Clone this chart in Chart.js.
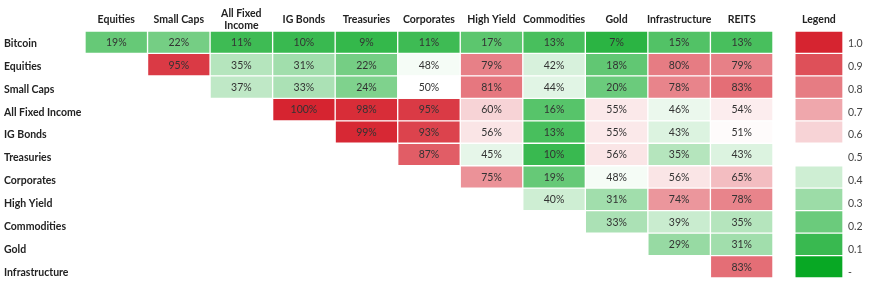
<!DOCTYPE html>
<html>
<head>
<meta charset="utf-8">
<script src="https://cdn.jsdelivr.net/npm/chart.js@4.4.1/dist/chart.umd.min.js"></script>
<style>
  body { margin: 0; background: #fff; }
  #wrap { width: 870px; height: 292px; position: relative; }
</style>
</head>
<body>
<div id="wrap"><canvas id="corrChart"></canvas></div>
<script>
// --- Data ---
const columnLabels = ["Equities", "Small Caps", ["All Fixed", "Income"], "IG Bonds", "Treasuries",
  "Corporates", "High Yield", "Commodities", "Gold", "Infrastructure", "REITS"];
const rowLabels = ["Bitcoin", "Equities", "Small Caps", "All Fixed Income", "IG Bonds", "Treasuries",
  "Corporates", "High Yield", "Commodities", "Gold", "Infrastructure"];

// correlation (%) per row, starting at the row's own column
const bitcoin = [19, 22, 11, 10, 9, 11, 17, 13, 7, 15, 13];
const equities = [95, 35, 31, 22, 48, 79, 42, 18, 80, 79];
const smallCaps = [37, 33, 24, 50, 81, 44, 20, 78, 83];
const allFixedIncome = [100, 98, 95, 60, 16, 55, 46, 54];
const igBonds = [99, 93, 56, 13, 55, 43, 51];
const treasuries = [87, 45, 10, 56, 35, 43];
const corporates = [75, 19, 48, 56, 65];
const highYield = [40, 31, 74, 78];
const commodities = [33, 39, 35];
const gold = [29, 31];
const infrastructure = [83];
const matrixRows = [bitcoin, equities, smallCaps, allFixedIncome, igBonds, treasuries,
  corporates, highYield, commodities, gold, infrastructure];

const legendValues = [1.0, 0.9, 0.8, 0.7, 0.6, 0.5, 0.4, 0.3, 0.2, 0.1, 0];
const legendLabels = ["1.0", "0.9", "0.8", "0.7", "0.6", "0.5", "0.4", "0.3", "0.2", "0.1", "-"];

// --- Colour scale: green (0) -> white (0.5) -> red (1) ---
const RED = [214, 36, 48];
const GREEN = [8, 168, 36];
function heatColor(v) {
  const end = v >= 0.5 ? RED : GREEN;
  const t = Math.min(1, Math.abs(v - 0.5) / 0.5);
  const c = end.map((e) => Math.round(255 + (e - 255) * t));
  return `rgb(${c[0]}, ${c[1]}, ${c[2]})`;
}

// build floating bar cells from the arrays
const cells = [];
matrixRows.forEach((vals, r) => {
  vals.forEach((v, k) => {
    const c = r + k;
    cells.push({ x: [c, c + 1], y: rowLabels[r], v: v });
  });
});
const LEG_START = 11.35, LEG_END = 12.12;
const legendCells = legendValues.map((v, i) => ({ x: [LEG_START, LEG_END], y: rowLabels[i], v: v * 100 }));

const headerTicks = columnLabels.map((_, i) => i + 0.5).concat([(LEG_START + LEG_END) / 2]);
const headerText = columnLabels.concat(["Legend"]);

// label axes (row names left, legend values right) sit on a slightly stretched scale
const LABEL_MIN = -0.536, LABEL_MAX = 10.227;

const FONT = "Lato, 'Open Sans', sans-serif";

// value labels inside the matrix cells
const cellText = {
  id: "cellText",
  afterDatasetsDraw(chart) {
    const ctx = chart.ctx;
    const meta = chart.getDatasetMeta(0);
    ctx.save();
    ctx.font = `10.5px ${FONT}`;
    ctx.fillStyle = "#333";
    ctx.textAlign = "center";
    ctx.textBaseline = "middle";
    meta.data.forEach((bar, i) => {
      ctx.fillText(cells[i].v + "%", (bar.x + bar.base) / 2, bar.y + 0.5);
    });
    ctx.restore();
  },
};

const labelAxis = (position, labels, width, ticks) => ({
  type: "linear",
  position: position,
  reverse: true,
  offset: false,
  bounds: "data",
  min: LABEL_MIN,
  max: LABEL_MAX,
  grid: { display: false, drawTicks: false, offset: false },
  border: { display: false },
  afterBuildTicks: (scale) => { scale.ticks = labels.map((_, i) => ({ value: i })); },
  afterDataLimits: (scale) => { scale.min = LABEL_MIN; scale.max = LABEL_MAX; },
  afterFit: (scale) => { scale.width = width; },
  ticks: Object.assign({ autoSkip: false, callback: (val) => labels[val] }, ticks),
});

const ctx = document.getElementById("corrChart").getContext("2d");
const corrChart = new Chart(ctx, {
  type: "bar",
  data: {
    labels: rowLabels,
    datasets: [
      {
        data: cells,
        backgroundColor: (c) => heatColor(c.raw.v / 100),
        borderColor: "rgba(255,255,255,0.35)",
        borderWidth: 1,
        borderSkipped: false,
        grouped: false,
        categoryPercentage: 1,
        barPercentage: 1,
      },
      {
        data: legendCells,
        backgroundColor: (c) => heatColor(c.raw.v / 100),
        borderColor: "rgba(255,255,255,0.35)",
        borderWidth: 1,
        borderSkipped: false,
        grouped: false,
        categoryPercentage: 1,
        barPercentage: 1,
      },
    ],
  },
  options: {
    indexAxis: "y",
    responsive: true,
    maintainAspectRatio: false,
    animation: false,
    events: [],
    layout: { padding: { left: 4, right: 0, top: 0, bottom: 14 } },
    plugins: { legend: { display: false }, tooltip: { enabled: false } },
    scales: {
      x: {
        type: "linear",
        position: "top",
        min: 0,
        max: LEG_END,
        grid: { display: false, drawTicks: false },
        border: { display: false },
        afterBuildTicks: (scale) => { scale.ticks = headerTicks.map((v) => ({ value: v })); },
        afterFit: (scale) => { scale.height = 31; },
        ticks: {
          autoSkip: false,
          maxRotation: 0,
          padding: 5,
          crossAlign: "center",
          color: "#222",
          font: { family: FONT, size: 10.5, weight: "bold" },
          callback: (val, i) => headerText[i],
        },
      },
      y: {
        type: "category",
        display: false,
      },
      yRows: labelAxis("left", rowLabels, 81, {
        crossAlign: "far",
        color: "#222",
        font: { family: FONT, size: 10.5, weight: "bold" },
      }),
      yLegend: labelAxis("right", legendLabels, 27, {
        padding: 5,
        color: "#444",
        font: { family: FONT, size: 10.5 },
      }),
    },
  },
  plugins: [cellText],
});
</script>
</body>
</html>
